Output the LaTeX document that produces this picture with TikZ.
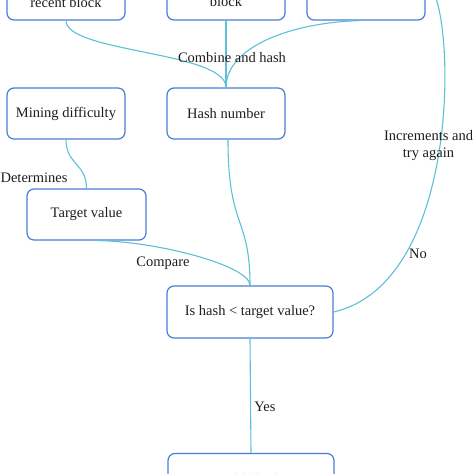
\documentclass[tikz,border=0pt]{standalone}
\usepackage{fontspec}
\setmainfont{Liberation Serif}
\usepackage{xcolor}
\newcommand{\picwidth}{474pt}
\newcommand{\picheight}{474pt}
\newcommand{\boxwidth}{118pt}
\definecolor{boxcolor}{HTML}{4A7ED6}
\definecolor{linkcolor}{HTML}{5CC0D8}
\definecolor{textcolor}{HTML}{1E1E1E}

\begin{document}
\begin{tikzpicture}[
    stepbox/.style={draw=boxcolor, line width=1.2pt, rounded corners=7pt, fill=white,
      minimum width=\boxwidth, minimum height=51pt, align=center,
      font=\fontsize{14.5}{17}\selectfont\color{textcolor}},
    link/.style={linkcolor, line width=1.1pt},
    linklabel/.style={font=\fontsize{14.5}{17}\selectfont\color{textcolor}, align=center}
  ]
  \useasboundingbox (0,0) rectangle (\picwidth, \picheight);

  % === TOP ROW ===
  \node[stepbox, minimum height=70pt] (recent) at (66pt, 489pt) {Hash of the\\most\\recent block};
  \node[stepbox, minimum height=70pt] (trans) at (226pt, 489pt) {Transactions\\in the new\\block};
  \node[stepbox, minimum height=70pt] (nonce) at (366pt, 489pt) {Nonce};

  % === MIDDLE ===
  \node[stepbox] (difficulty) at (66pt, 360.5pt) {Mining difficulty};
  \node[stepbox] (hashnum) at (226pt, 360.5pt) {Hash number};
  \node[stepbox, minimum width=119pt] (target) at (86.5pt, 259.5pt) {Target value};
  \node[stepbox, minimum width=166pt, minimum height=52pt] (check) at (250pt, 162pt) {Is hash < target value?};

  % === BOTTOM ===
  \node[stepbox, minimum width=166pt, minimum height=53pt] (addblock) at (251pt, -6pt) {Add block};

  % Connectors
  \draw[link] (recent.south) .. controls +(0pt,-32pt) and +(0pt,36pt) .. (hashnum.north);
  \draw[link] (trans.south) -- (hashnum.north);
  \draw[link] ([xshift=-6pt]nonce.south) .. controls +(-70pt,-2pt) and +(0pt,40pt) .. (hashnum.north);
  \draw[link] (difficulty.south) .. controls +(0pt,-25pt) and +(0pt,25pt) .. (target.north);
  \draw[link] ([xshift=2pt]hashnum.south) .. controls +(0pt,-90pt) and +(0pt,70pt) .. (check.north);
  \draw[link] ([xshift=8pt]target.south) .. controls +(60pt,0pt) and +(0pt,20pt) .. (check.north);
  \draw[link] (check.east) .. controls +(137pt,32pt) and +(28pt,5pt) .. (nonce.east);
  \draw[link] (check.south) -- (addblock.north);

  % Labels
  \node[linklabel] (combinelbl) at (232pt, 416pt) {Combine and hash};
  \node[linklabel] (determineslbl) at (34pt, 296pt) {Determines};
  \node[linklabel] (comparelbl) at (163pt, 211pt) {Compare};
  \node[linklabel] (incrementlbl) at (428.5pt, 328pt) {Increments and\\try again};
  \node[linklabel] (nolbl) at (418pt, 220pt) {No};
  \node[linklabel] (yeslbl) at (265pt, 67pt) {Yes};
\end{tikzpicture}
\end{document}
